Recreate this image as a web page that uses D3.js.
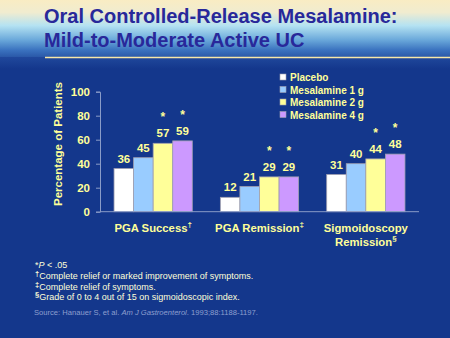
<!DOCTYPE html>
<html>
<head>
<meta charset="utf-8">
<script src="https://cdn.jsdelivr.net/npm/d3@7"></script>
<style>
  html, body { margin: 0; padding: 0; background: #14378c; }
  svg { display: block; }
  text { font-family: Arial, "Liberation Sans", sans-serif; }
</style>
</head>
<body>
<svg id="chart" width="450" height="338"></svg>
<script>
// Outcome measures and treatment arms
const categories = ["PGA Success", "PGA Remission", "Sigmoidoscopy Remission"];
const categoryLines = [["PGA Success", "†"], ["PGA Remission", "‡"], ["Sigmoidoscopy", "Remission", "§"]];
const seriesNames = ["Placebo", "Mesalamine 1 g", "Mesalamine 2 g", "Mesalamine 4 g"];
const placebo = [36, 12, 31];
const mesalamine1g = [45, 21, 40];
const mesalamine2g = [57, 29, 44];
const mesalamine4g = [59, 29, 48];
// Significance flags (P < .05) per series, per category
const sigPlacebo = [false, false, false];
const sig1g = [false, false, false];
const sig2g = [true, true, true];
const sig4g = [true, true, true];
const yTicks = [0, 20, 40, 60, 80, 100];

const seriesValues = [placebo, mesalamine1g, mesalamine2g, mesalamine4g];
const seriesSig = [sigPlacebo, sig1g, sig2g, sig4g];
const colors = ["#ffffff", "#99ccff", "#ffff99", "#cc99ff"];
const labelColor = "#ffff99";

const svg = d3.select("#chart");

// Header background gradient
const defs = svg.append("defs");
const grad = defs.append("linearGradient").attr("id", "hdr").attr("x1", 0).attr("y1", 0).attr("x2", 0).attr("y2", 1);
[[0, "#f9ecc3"], [0.22, "#f0ecd0"], [0.45, "#b4e2f2"], [0.7, "#6aa8da"], [0.88, "#3a72bf"], [1, "#2a58a8"]]
  .forEach(([o, c]) => grad.append("stop").attr("offset", o).attr("stop-color", c));
const grad2 = defs.append("linearGradient").attr("id", "hdr2").attr("x1", 0).attr("y1", 0).attr("x2", 0).attr("y2", 1);
[[0, "#20489c"], [1, "#14378c"]].forEach(([o, c]) => grad2.append("stop").attr("offset", o).attr("stop-color", c));

svg.append("rect").attr("width", 450).attr("height", 338).attr("fill", "#14378c");
svg.append("rect").attr("width", 450).attr("height", 57).attr("fill", "url(#hdr)");
svg.append("rect").attr("y", 57).attr("width", 450).attr("height", 12).attr("fill", "url(#hdr2)");
svg.append("line").attr("x1", 45).attr("x2", 450).attr("y1", 57.5).attr("y2", 57.5)
  .attr("stroke", "#f6e8a8").attr("stroke-width", 1.5);

// Title
const title = svg.append("text").attr("fill", "#28289a").attr("font-weight", "bold").attr("font-size", 20);
title.append("tspan").attr("x", 44).attr("y", 23).text("Oral Controlled-Release Mesalamine:");
title.append("tspan").attr("x", 44).attr("y", 46.5).text("Mild-to-Moderate Active UC");

// Scales
const x0 = d3.scaleBand().domain(categories).range([100, 419]).paddingInner(0.264).paddingOuter(0.132);
const x1 = d3.scaleBand().domain(seriesNames).range([0, x0.bandwidth()]);
const y = d3.scaleLinear().domain([0, 100]).range([211.7, 91.7]);

// Y axis
const yAxis = svg.append("g").attr("transform", "translate(100,0)")
  .call(d3.axisLeft(y).tickValues(yTicks).tickSize(4).tickPadding(6));
yAxis.select(".domain").attr("stroke", "#8a9cc8");
yAxis.selectAll(".tick line").attr("stroke", "#8a9cc8");
yAxis.selectAll(".tick text").attr("fill", labelColor).attr("font-weight", "bold")
  .attr("font-size", 11.5).attr("font-family", "Arial, 'Liberation Sans', sans-serif");

svg.append("text").attr("transform", "translate(62,144) rotate(-90)")
  .attr("text-anchor", "middle").attr("fill", labelColor).attr("font-weight", "bold")
  .attr("font-size", 11.5).text("Percentage of Patients");

// Bars
const groups = svg.append("g").selectAll("g").data(categories).join("g")
  .attr("transform", d => `translate(${x0(d)},0)`);

groups.each(function(cat, ci) {
  const g = d3.select(this);
  seriesNames.forEach((s, si) => {
    const v = seriesValues[si][ci];
    const bx = x1(s);
    g.append("rect").attr("x", bx).attr("y", y(v))
      .attr("width", x1.bandwidth()).attr("height", y(0) - y(v))
      .attr("fill", colors[si]).attr("stroke", "#a0a0b0").attr("stroke-width", 0.8);
    g.append("text").attr("x", bx + x1.bandwidth() / 2).attr("y", y(v) - 6)
      .attr("text-anchor", "middle").attr("fill", labelColor).attr("font-weight", "bold")
      .attr("font-size", 11.5).text(v);
    if (seriesSig[si][ci]) {
      g.append("text").attr("x", bx + x1.bandwidth() / 2).attr("y", y(v) - 22)
        .attr("text-anchor", "middle").attr("fill", labelColor).attr("font-weight", "bold")
        .attr("font-size", 12).text("*");
    }
  });
});

// Baseline
svg.append("line").attr("x1", 100).attr("x2", 419).attr("y1", y(0)).attr("y2", y(0))
  .attr("stroke", "#8a9cc8").attr("stroke-width", 1);

// Category labels
categories.forEach((c, ci) => {
  const lines = categoryLines[ci];
  const cx = x0(c) + x0.bandwidth() / 2;
  const t = svg.append("text").attr("text-anchor", "middle").attr("fill", labelColor)
    .attr("font-weight", "bold").attr("font-size", 11.3);
  const textLines = lines.slice(0, -1);
  const mark = lines[lines.length - 1];
  textLines.forEach((ln, li) => {
    t.append("tspan").attr("x", cx).attr("y", 232 + li * 14).text(ln);
    if (li === textLines.length - 1) {
      t.append("tspan").attr("dy", -5).attr("font-size", 8).text(mark);
    }
  });
});

// Legend
const legend = svg.append("g").attr("transform", "translate(280,77)");
seriesNames.forEach((s, i) => {
  const row = legend.append("g").attr("transform", `translate(0,${i * 12.5})`);
  row.append("rect").attr("x", 0).attr("y", -3).attr("width", 6).attr("height", 6)
    .attr("fill", colors[i]).attr("stroke", "#a0a0b0").attr("stroke-width", 0.6);
  row.append("text").attr("x", 10).attr("y", 4).attr("fill", labelColor)
    .attr("font-weight", "bold").attr("font-size", 10).text(s);
});

// Footnotes
const noteColor = "#ffffd8";
const f1 = svg.append("text").attr("x", 35).attr("y", 268).attr("fill", noteColor).attr("font-size", 9);
f1.append("tspan").text("*");
f1.append("tspan").attr("font-style", "italic").text("P");
f1.append("tspan").text(" < .05");
const notes = [["†", "Complete relief or marked improvement of symptoms."],
               ["‡", "Complete relief of symptoms."],
               ["§", "Grade of 0 to 4 out of 15 on sigmoidoscopic index."]];
notes.forEach(([m, txt], i) => {
  const t = svg.append("text").attr("x", 35).attr("y", 279 + i * 10.5).attr("fill", noteColor).attr("font-size", 9);
  t.append("tspan").attr("dy", -3).attr("font-size", 7.5).attr("font-weight", "bold").text(m);
  t.append("tspan").attr("dy", 3).text(txt);
});

const src = svg.append("text").attr("x", 34).attr("y", 315).attr("fill", "#8d9fcf").attr("font-size", 7.6);
src.append("tspan").text("Source: Hanauer S, et al. ");
src.append("tspan").attr("font-style", "italic").text("Am J Gastroenterol");
src.append("tspan").text(". 1993;88:1188-1197.");
</script>
</body>
</html>
